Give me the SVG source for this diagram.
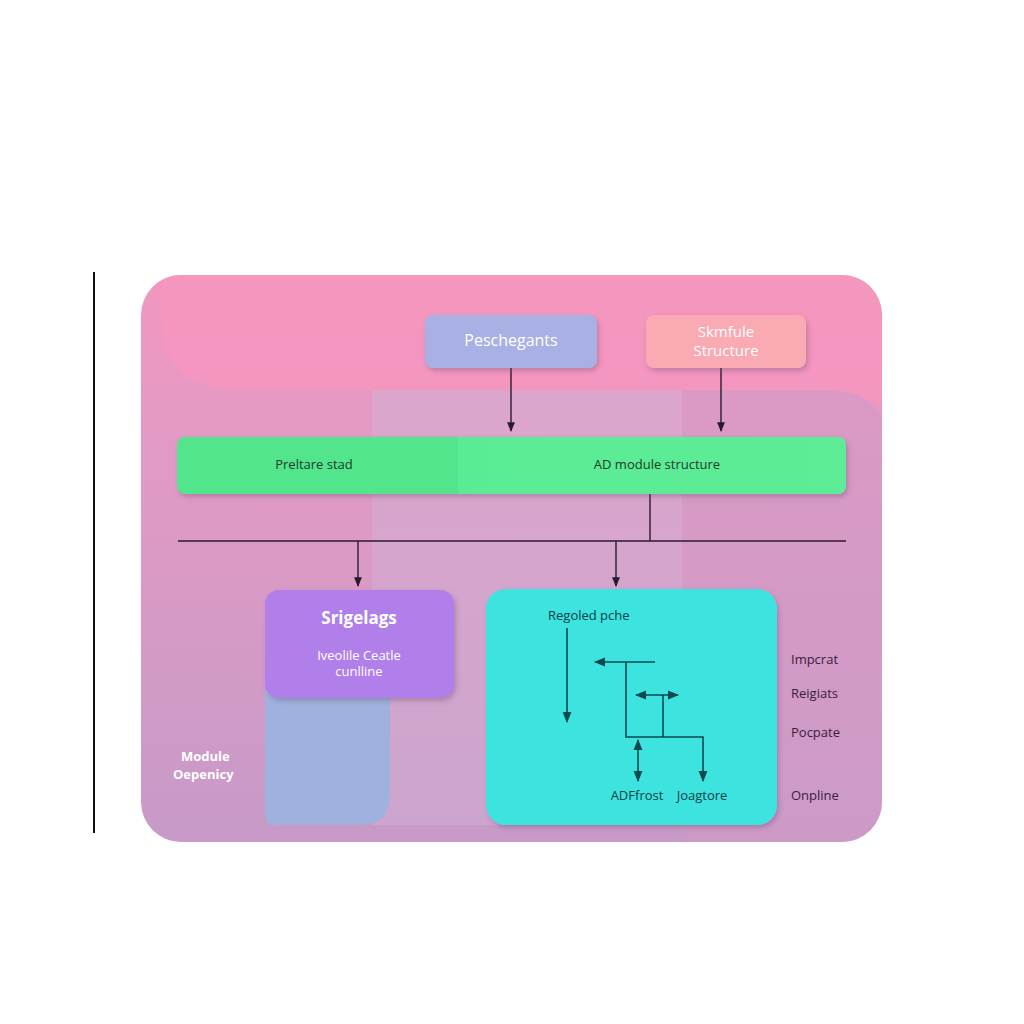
<svg xmlns="http://www.w3.org/2000/svg" width="1024" height="1024" viewBox="0 0 1024 1024">
<defs>
<linearGradient id="bg" x1="0" y1="0" x2="0" y2="1">
<stop offset="0" stop-color="#f296bf"/>
<stop offset="0.3" stop-color="#e29ac4"/>
<stop offset="1" stop-color="#c79ac8"/>
</linearGradient>
<linearGradient id="green" x1="0" y1="0" x2="1" y2="0">
<stop offset="0" stop-color="#52e58c"/>
<stop offset="0.42" stop-color="#52e58c"/>
<stop offset="0.42" stop-color="#5aec94"/>
<stop offset="1" stop-color="#5eec96"/>
</linearGradient>
<clipPath id="pc"><rect x="141" y="275" width="741" height="567" rx="40"/></clipPath>
<filter id="sh" x="-10%" y="-20%" width="120%" height="150%">
<feDropShadow dx="2" dy="3" stdDeviation="2.5" flood-color="#6a4a70" flood-opacity="0.35"/>
</filter>
<marker id="ah" viewBox="0 0 10 10" refX="9" refY="5" markerWidth="7" markerHeight="7" orient="auto-start-reverse">
<path d="M0,1 L10,5 L0,9 z" fill="#2a1a30"/>
</marker>
<marker id="ahc" viewBox="0 0 10 10" refX="9" refY="5" markerWidth="7" markerHeight="7" orient="auto-start-reverse">
<path d="M0,1 L10,5 L0,9 z" fill="#0d4a50"/>
</marker>
<style>
.t{font-family:"Open Sans","Liberation Sans",sans-serif;}
.w{fill:#ffffff;}
.d{fill:#1f3a2c;font-size:13px;}
.c{fill:#0d4048;font-size:13px;}
.r{fill:#3a2040;font-size:13px;}
.ln{stroke:#2a1a30;stroke-width:1.4;fill:none;}
.lc{stroke:#0d4a50;stroke-width:1.6;fill:none;}
</style>
</defs>
<rect width="1024" height="1024" fill="#ffffff"/>
<line x1="94" y1="272" x2="94" y2="833" stroke="#111" stroke-width="2"/>
<g id="panel">
<rect x="141" y="275" width="741" height="567" rx="40" fill="url(#bg)"/>
<g clip-path="url(#pc)">
<path d="M162,270 H890 V410 Q860,392 830,390 H230 Q162,385 162,320 Z" fill="#f696be" opacity="0.8"/>
<path d="M682,390 H830 Q882,392 890,440 V850 H682 Z" fill="#d19bc6" opacity="0.55"/>
</g>
<rect x="372" y="390" width="310" height="435" fill="#d0b4d6" opacity="0.45"/>
<path d="M265,598 H390 V795 Q390,825 360,825 H275 Q265,825 265,815 Z" fill="#9fb2df"/>
</g>
<g id="connectors">
<line class="ln" x1="511" y1="368" x2="511" y2="431" marker-end="url(#ah)"/>
<line class="ln" x1="721" y1="368" x2="721" y2="431" marker-end="url(#ah)"/>
<line class="ln" x1="650" y1="494" x2="650" y2="541"/>
<line class="ln" x1="178" y1="541" x2="846" y2="541"/>
<line class="ln" x1="358" y1="541" x2="358" y2="586" marker-end="url(#ah)"/>
<line class="ln" x1="616" y1="541" x2="616" y2="586" marker-end="url(#ah)"/>
</g>
<g id="peschegants">
<rect x="425" y="315" width="172" height="53" rx="8" fill="#a8b0e4" filter="url(#sh)"/>
<text class="t w" x="511" y="346" font-size="16" text-anchor="middle">Peschegants</text>
</g>
<g id="skmfule">
<rect x="646" y="315" width="160" height="53" rx="8" fill="#f9aab3" filter="url(#sh)"/>
<text class="t w" x="726" y="337" font-size="15" text-anchor="middle">Skmfule</text>
<text class="t w" x="726" y="356" font-size="15" text-anchor="middle">Structure</text>
</g>
<g id="greenbar">
<rect x="177" y="437" width="669" height="57" rx="8" fill="url(#green)" filter="url(#sh)"/>
<text class="t d" x="314" y="469" text-anchor="middle">Preltare stad</text>
<text class="t d" x="657" y="469" text-anchor="middle">AD module structure</text>
</g>
<g id="srigelags">
<rect x="265" y="590" width="189" height="108" rx="14" fill="#b07fea" filter="url(#sh)"/>
<text class="t w" x="359" y="624" font-size="17" font-weight="bold" text-anchor="middle">Srigelags</text>
<text class="t w" x="359" y="660" font-size="13" text-anchor="middle">Iveolile Ceatle</text>
<text class="t w" x="359" y="676" font-size="13" text-anchor="middle">cunlline</text>
</g>
<g id="cyanbox">
<rect x="486" y="589" width="291" height="236" rx="20" fill="#3de3df" filter="url(#sh)"/>
<text class="t c" x="548" y="620">Regoled pche</text>
<line class="lc" x1="567" y1="628" x2="567" y2="722" marker-end="url(#ahc)"/>
<line class="lc" x1="655" y1="662" x2="595" y2="662" marker-end="url(#ahc)"/>
<polyline class="lc" points="626,662 626,737 703,737 703,781" marker-end="url(#ahc)"/>
<line class="lc" x1="636" y1="695" x2="678" y2="695" marker-start="url(#ahc)" marker-end="url(#ahc)"/>
<line class="lc" x1="663" y1="695" x2="663" y2="737"/>
<line class="lc" x1="638" y1="740" x2="638" y2="781" marker-start="url(#ahc)" marker-end="url(#ahc)"/>
<text class="t c" x="637" y="800" text-anchor="middle">ADFfrost</text>
<text class="t c" x="702" y="800" text-anchor="middle">Joagtore</text>
</g>
<g id="labels">
<text class="t r" x="791" y="664">Impcrat</text>
<text class="t r" x="791" y="698">Reigiats</text>
<text class="t r" x="791" y="737">Pocpate</text>
<text class="t r" x="791" y="800">Onpline</text>
<text class="t w" x="181" y="761" font-size="13" font-weight="bold">Module</text>
<text class="t w" x="173" y="779" font-size="13" font-weight="bold">Oepenicy</text>
</g>
</svg>
